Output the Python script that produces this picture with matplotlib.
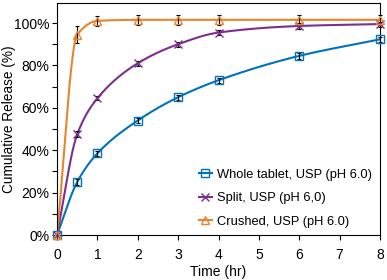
import numpy as np
import matplotlib.pyplot as plt
from matplotlib.ticker import MultipleLocator, PercentFormatter

plt.rcParams['font.family'] = ['Liberation Sans', 'DejaVu Sans']

time_hr = [0, 0.5, 1, 2, 3, 4, 6, 8]
whole = [0, 25, 38.5, 54, 65, 73, 84.5, 92.3]
whole_err = [0, 1.2, 1.2, 1.2, 1.2, 1.2, 1.3, 1.3]
split = [0, 47.5, 64.5, 81, 90, 95.5, 98.6, 99.5]
split_err = [0, 1.5, 1.0, 1.2, 1.2, 1.3, 1.2, 1.2]
crushed = [0, 94.5, 101, 101.5, 101.5, 101.5, 101.5, 101.5]
crushed_err = [0, 4.0, 2.5, 2.5, 2.5, 2.5, 2.5, 2.5]

labels = ['Whole tablet, USP (pH 6.0)', 'Split, USP (pH 6,0)', 'Crushed, USP (pH 6.0)']
colors = ['#0072BD', '#7E2F8E', '#E8852B']
markers = ['s', 'x', '^']


def pchip(x, y, xs):
    # monotone cubic curve through the measured points (for drawing the line only)
    x = np.asarray(x, float)
    y = np.asarray(y, float)
    h = np.diff(x)
    d = np.diff(y) / h
    m = np.zeros_like(y)
    for k in range(1, len(x) - 1):
        if d[k - 1] * d[k] > 0:
            w1 = 2 * h[k] + h[k - 1]
            w2 = h[k] + 2 * h[k - 1]
            m[k] = (w1 + w2) / (w1 / d[k - 1] + w2 / d[k])
    m[0] = d[0]
    m[-1] = d[-1]
    idx = np.clip(np.searchsorted(x, xs) - 1, 0, len(h) - 1)
    t = (xs - x[idx]) / h[idx]
    h00 = 2 * t**3 - 3 * t**2 + 1
    h10 = t**3 - 2 * t**2 + t
    h01 = -2 * t**3 + 3 * t**2
    h11 = t**3 - t**2
    return h00 * y[idx] + h10 * h[idx] * m[idx] + h01 * y[idx + 1] + h11 * h[idx] * m[idx + 1]


fig = plt.figure(figsize=(3.87, 2.8), dpi=100)
ax = fig.add_axes([0.1473, 0.1607, 0.8346, 0.8283])

xs = np.linspace(0, 8, 400)
for vals, errs, lab, col, mk in zip([whole, split, crushed],
                                    [whole_err, split_err, crushed_err],
                                    labels, colors, markers):
    ax.plot(xs, pchip(time_hr, vals, xs), color=col, lw=1.5, zorder=2)
    ax.errorbar(time_hr, vals, yerr=errs, fmt='none', ecolor='black',
                elinewidth=0.8, capsize=1.5, capthick=0.8, zorder=3, clip_on=False)
    ax.plot(time_hr, vals, ls='none', marker=mk, ms=5.5, mfc='none',
            mec=col, mew=1.0, zorder=4, clip_on=False)
    # legend proxy
    ax.plot([], [], color=col, lw=1.5, marker=mk, ms=5.5, mfc='none', mec=col,
            mew=1.0, label=lab)

ax.set_xlim(0, 8)
ax.set_ylim(0, 109.4)
ax.xaxis.set_major_locator(MultipleLocator(1))
ax.yaxis.set_major_locator(MultipleLocator(20))
ax.yaxis.set_minor_locator(MultipleLocator(10))
ax.yaxis.set_major_formatter(PercentFormatter(decimals=0))
ax.tick_params(axis='both', which='both', direction='out', length=3.5,
               width=0.8, labelsize=10, top=False, right=False)
ax.tick_params(axis='x', pad=6)
ax.tick_params(axis='y', pad=2)
for s in ax.spines.values():
    s.set_linewidth(0.8)

ax.set_xlabel('Time (hr)', fontsize=10, labelpad=2)
ax.set_ylabel('Cumulative Release (%)', fontsize=9.8)
ax.yaxis.set_label_coords(-0.126, 0.5)

ax.legend(loc='lower right', frameon=False, fontsize=9.3, handlelength=1.05,
          handletextpad=0.4, labelspacing=0.9, bbox_to_anchor=(1.012, -0.02))

fig.savefig('out.png', dpi=100)
